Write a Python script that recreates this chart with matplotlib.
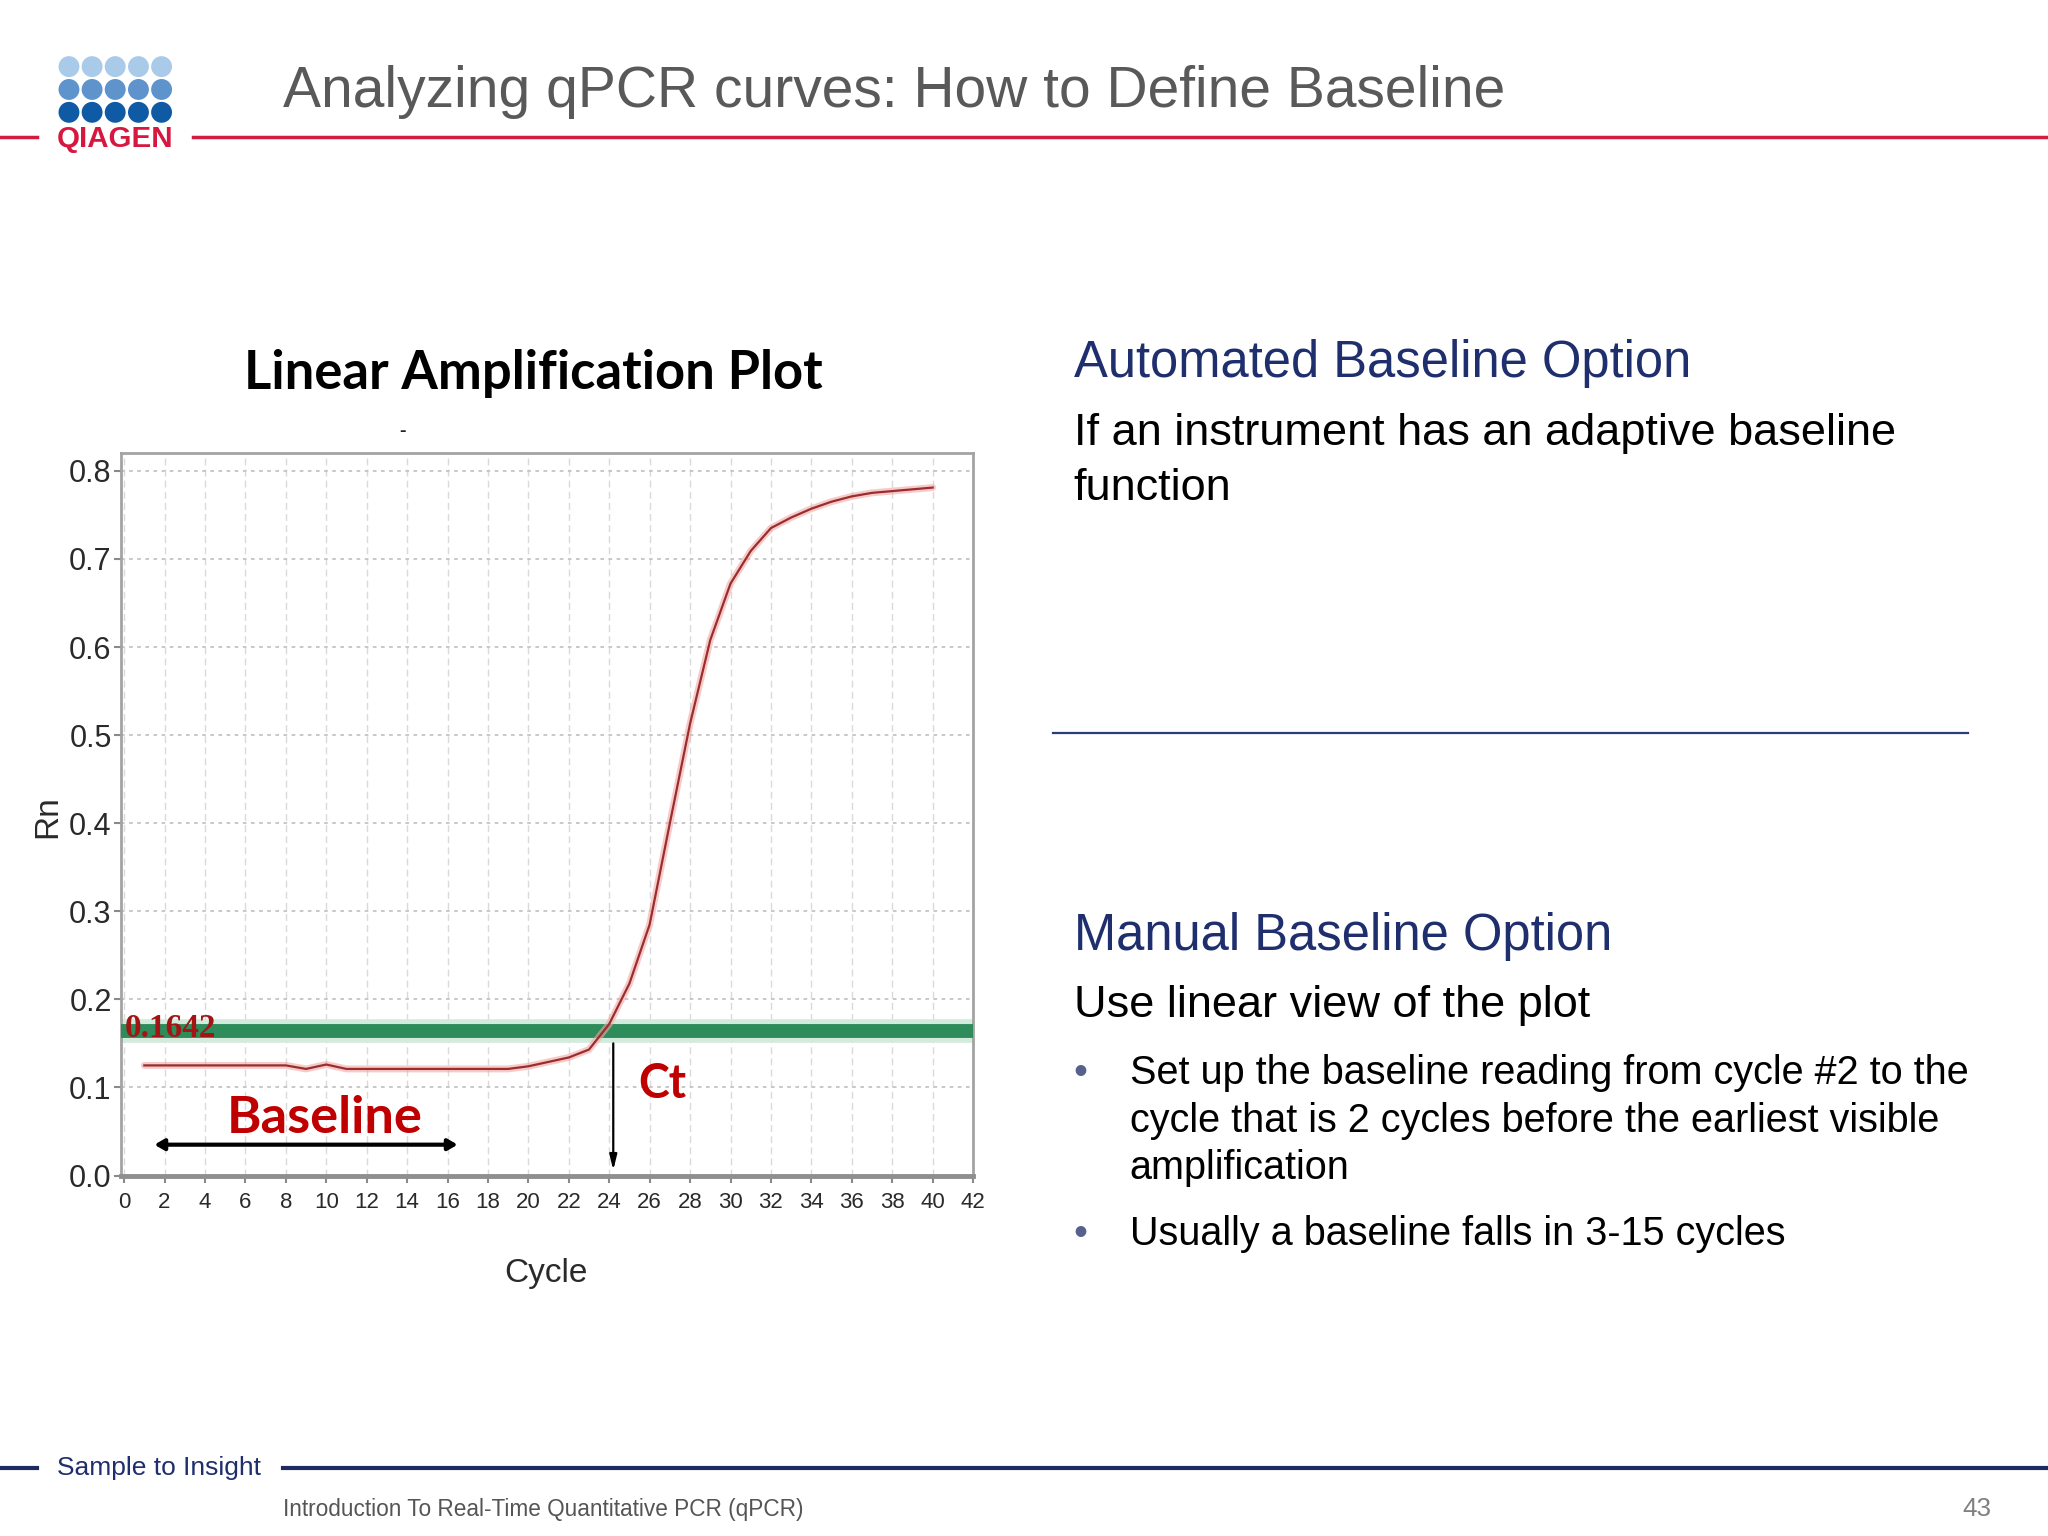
import matplotlib
matplotlib.use('Agg')
import matplotlib.pyplot as plt
from matplotlib.lines import Line2D
from matplotlib.patches import Ellipse
import numpy as np

# reference slide frame used for placing things (px)
W, H = 1568, 1176
S = 2048 / W

# ---- chart data -------------------------------------------------------
cycles = np.arange(1, 41)
rn = [0.125, 0.125, 0.125, 0.125, 0.125, 0.125, 0.125, 0.125, 0.121, 0.126,
      0.121, 0.121, 0.121, 0.121, 0.121, 0.121, 0.121, 0.121, 0.121, 0.124,
      0.129, 0.134, 0.143, 0.172, 0.218, 0.285, 0.400, 0.513, 0.608, 0.672,
      0.709, 0.735, 0.747, 0.757, 0.765, 0.771, 0.775, 0.777, 0.779, 0.781]
threshold = 0.1642
threshold_label = '0.1642'
x_ticks = list(range(0, 43, 2))
y_ticks = [0.0, 0.1, 0.2, 0.3, 0.4, 0.5, 0.6, 0.7, 0.8]
y_tick_labels = ['0.0', '0.1', '0.2', '0.3', '0.4', '0.5', '0.6', '0.7', '0.8']
baseline_span = (1.5, 16.5)
baseline_arrow_y = 0.035
ct_cycle = 24.2

# ---- slide text -------------------------------------------------------
slide_title = 'Analyzing qPCR curves: How to Define Baseline'
chart_title = 'Linear Amplification Plot'
auto_head = 'Automated Baseline Option'
auto_body = ['If an instrument has an adaptive baseline', 'function']
manual_head = 'Manual Baseline Option'
manual_body = 'Use linear view of the plot'
bullet_1 = ['Set up the baseline reading from cycle #2 to the',
            'cycle that is 2 cycles before the earliest visible',
            'amplification']
bullet_2 = 'Usually a baseline falls in 3-15 cycles'
footer_tag = 'Sample to Insight'
footer_course = 'Introduction To Real-Time Quantitative PCR (qPCR)'
page_no = '43'

NAVY = '#1f2f6e'
RED = '#c00000'
AXIS_FONT = ['Liberation Sans Narrow', 'Liberation Sans']


def fx(x):
    return x / W


def fy(y):
    return 1 - y / H


def hline(x0, x1, y, **kw):
    fig.add_artist(Line2D([fx(x0), fx(x1)], [fy(y), fy(y)],
                          transform=fig.transFigure, **kw))


def fit(txt, width_ref):
    """Scale a text's font size so it spans width_ref (reference px)."""
    r = fig.canvas.get_renderer()
    bb = txt.get_window_extent(renderer=r)
    txt.set_fontsize(txt.get_fontsize() * width_ref * S / bb.width)


fig = plt.figure(figsize=(20.48, 15.36), dpi=100, facecolor='white')
plt.rcParams['font.family'] = ['Liberation Sans', 'DejaVu Sans']

# ---- header: logo, title, red rule ------------------------------------
row_colors = ['#a9cbe9', '#5e93cc', '#0f5aa5']
for r_i, yy in enumerate([51, 68.5, 86]):
    for xx in [52.8, 70.5, 88.2, 106, 123.7]:
        fig.add_artist(Ellipse((fx(xx), fy(yy)), 16 / W, 16 / H,
                               transform=fig.transFigure,
                               color=row_colors[r_i], lw=0))
hline(0, 28, 105, color='#d01c3f', lw=2.5)
hline(148, W, 105, color='#d01c3f', lw=2.5)
logo = fig.text(fx(88), fy(106.5), 'QIAGEN', ha='center', va='center',
                fontsize=19, weight='bold', color='#d7173f')
fit(logo, 89)

fig.text(fx(217), fy(82), slide_title, fontsize=41, color='#595959',
         va='baseline')

# ---- chart ------------------------------------------------------------
ct = fig.text(fx(408), fy(298), chart_title, ha='center', va='baseline',
              family=['Lato', 'DejaVu Sans'], weight='bold', fontsize=32,
              color='black')
fit(ct, 444)
fig.text(fx(308), fy(330), '-', ha='center', va='center', fontsize=14,
         weight='bold', color='#222222')

ax = fig.add_axes([fx(93), fy(900), fx(745) - fx(93), fy(347) - fy(900)])
ax.set_xlim(-0.13, 42.0)
ax.set_ylim(0, 0.82)
ax.set_facecolor('white')

ax.set_xticks(x_ticks)
ax.set_xticklabels([str(t) for t in x_ticks], fontsize=16, family=AXIS_FONT)
ax.set_yticks(y_ticks)
ax.set_yticklabels(y_tick_labels, fontsize=22, family=AXIS_FONT)
ax.tick_params(axis='both', direction='out', length=5, width=1.5,
               color='#8a8a8a', labelcolor='#2a2a2a')
ax.tick_params(axis='x', pad=7)
ax.tick_params(axis='y', pad=2)

ax.grid(axis='x', color='#dadada', ls=(0, (5, 3)), lw=1.0)
ax.grid(axis='y', color='#c4c4c4', ls=(0, (2, 2.5)), lw=1.3)
ax.set_axisbelow(True)
for side in ['left', 'right', 'top']:
    ax.spines[side].set(color='#a3a3a3', lw=2)
ax.spines['bottom'].set(color='#8f8f8f', lw=3.5)

# threshold with soft halo
ax.axhline(threshold, color='#d3ebdc', lw=17, zorder=2)
ax.axhline(threshold, color='#2e8b5a', lw=10, zorder=3)

# amplification curve with pink halo
ax.plot(cycles, rn, color='#f3a7a7', lw=5, alpha=0.6, zorder=4,
        solid_capstyle='round')
ax.plot(cycles, rn, color='#9b2d2d', lw=1.6, zorder=5)

tl = ax.text(0.05, threshold - 0.007, threshold_label, ha='left',
             va='baseline', family=['Liberation Serif', 'DejaVu Serif'],
             weight='bold', fontsize=22, color='#a31515', zorder=6)
fit(tl, 70)

ax.annotate('', xy=(ct_cycle, 0.006), xytext=(ct_cycle, 0.150),
            arrowprops=dict(arrowstyle='-|>,head_length=0.9,head_width=0.22',
                            color='black', lw=1.6, shrinkA=0, shrinkB=0),
            zorder=6)
ctt = ax.text(26.65, 0.104, 'Ct', ha='center', va='center',
              family=['Lato', 'DejaVu Sans'], weight='bold', fontsize=30,
              color=RED, zorder=6)
fit(ctt, 37)

ax.annotate('', xy=(baseline_span[0], baseline_arrow_y),
            xytext=(baseline_span[1], baseline_arrow_y),
            arrowprops=dict(arrowstyle='<|-|>,head_length=0.55,head_width=0.32',
                            color='black', lw=3, shrinkA=0, shrinkB=0),
            zorder=6)
bt = ax.text(9.9, 0.0645, 'Baseline', ha='center', va='center',
             family=['Lato', 'DejaVu Sans'], weight='bold', fontsize=36,
             color=RED, zorder=6)
fit(bt, 150)

ax.text(-0.086, 0.497, 'Rn', rotation=90, ha='center', va='center',
        transform=ax.transAxes, fontsize=24, family=AXIS_FONT,
        color='#2a2a2a')
ax.text(0.498, -0.136, 'Cycle', ha='center', va='center',
        transform=ax.transAxes, fontsize=24, family=AXIS_FONT,
        color='#2a2a2a')

# ---- right column -----------------------------------------------------
fig.text(fx(822), fy(289), auto_head, fontsize=36.5, color=NAVY,
         va='baseline')
for line, yy in zip(auto_body, [341, 383]):
    fig.text(fx(822), fy(yy), line, fontsize=32.5, color='black',
             va='baseline')

hline(806, 1507, 561, color='#2a3c78', lw=1.6)

fig.text(fx(822), fy(727), manual_head, fontsize=36.5, color=NAVY,
         va='baseline')
fig.text(fx(822), fy(779), manual_body, fontsize=32.5, color='black',
         va='baseline')

for line, yy in zip(bullet_1, [830, 867, 903]):
    fig.text(fx(865), fy(yy), line, fontsize=28.5, color='black',
             va='baseline')
fig.text(fx(865), fy(953), bullet_2, fontsize=28.5, color='black',
         va='baseline')
for yy in [830, 953]:
    fig.text(fx(822), fy(yy), '\u2022', fontsize=28.5, color='#55628c',
             va='baseline')

# ---- footer -----------------------------------------------------------
hline(0, 28, 1124, color='#1d2b5f', lw=3)
hline(217, W, 1124, color='#1d2b5f', lw=3)
fig.text(fx(44), fy(1124), footer_tag, fontsize=19, color=NAVY,
         va='center')
fig.text(fx(217), fy(1156), footer_course, fontsize=16.3, color='#555555',
         va='center')
fig.text(fx(1525), fy(1155), page_no, fontsize=18.7, color='#808080',
         ha='right', va='center')

fig.savefig('out.png', dpi=100, facecolor='white')
